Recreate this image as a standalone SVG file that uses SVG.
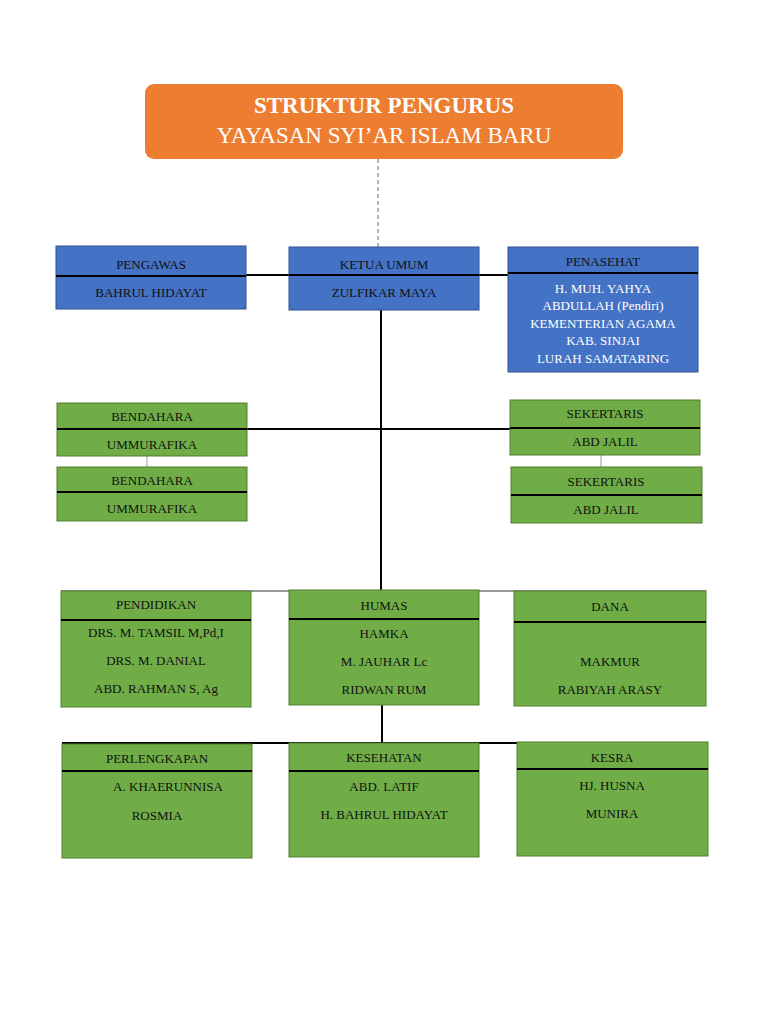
<svg xmlns="http://www.w3.org/2000/svg" width="768" height="1024" viewBox="0 0 768 1024">
<style>
.b{fill:#4472C4;stroke:#2F528F;stroke-width:1}
.g{fill:#70AD47;stroke:#507E32;stroke-width:1}
.d{stroke:#000;stroke-width:2}
.c{stroke:#000;stroke-width:2;fill:none}
text{font-family:"Liberation Serif",serif;font-size:13px;text-anchor:middle}
.bt{fill:#111}
.wt{fill:#fff}
</style>
<rect width="768" height="1024" fill="#fff"/>
<g id="title">
<rect x="145" y="84" width="478" height="75" rx="9" fill="#ED7D31"/>
<text x="384" y="113" style="font-size:23px;font-weight:bold" class="wt">STRUKTUR PENGURUS</text>
<text x="384" y="143" style="font-size:23px" class="wt">YAYASAN SYI’AR ISLAM BARU</text>
</g>
<g id="connectors">
<line x1="378" y1="159" x2="378" y2="247" stroke="#666" stroke-width="1" stroke-dasharray="4,3"/>
<line class="c" x1="246" y1="275" x2="698" y2="275"/>
<line class="c" x1="381" y1="310" x2="381" y2="590"/>
<line class="c" x1="247" y1="429" x2="510" y2="429"/>
<line x1="147" y1="456" x2="147" y2="467" stroke="#999" stroke-width="1"/>
<line x1="601" y1="455" x2="601" y2="467" stroke="#999" stroke-width="1"/>
<line x1="61" y1="591" x2="706" y2="591" stroke="#333" stroke-width="1"/>
<line class="c" x1="382" y1="705" x2="382" y2="743"/>
<line class="c" x1="62" y1="743" x2="708" y2="743"/>
</g>
<g id="pengawas"><rect class="b" x="56" y="246" width="190" height="63"/><line class="d" x1="56" y1="276" x2="246" y2="276"/>
<text class="bt" x="151" y="269">PENGAWAS</text><text class="bt" x="151" y="297">BAHRUL HIDAYAT</text></g>
<g id="ketua"><rect class="b" x="289" y="247" width="190" height="63"/><line class="d" x1="289" y1="275" x2="479" y2="275"/>
<text class="bt" x="384" y="269">KETUA UMUM</text><text class="bt" x="384" y="297">ZULFIKAR MAYA</text></g>
<g id="penasehat"><rect class="b" x="508" y="247" width="190" height="125"/><line class="d" x1="508" y1="273" x2="698" y2="273"/>
<text class="bt" x="603" y="266">PENASEHAT</text>
<text class="wt" x="603" y="293">H. MUH. YAHYA</text><text class="wt" x="603" y="310">ABDULLAH (Pendiri)</text><text class="wt" x="603" y="328">KEMENTERIAN AGAMA</text><text class="wt" x="603" y="345">KAB. SINJAI</text><text class="wt" x="603" y="363">LURAH SAMATARING</text></g>
<g id="bendahara1"><rect class="g" x="57" y="403" width="190" height="53"/><line class="d" x1="57" y1="429" x2="247" y2="429"/>
<text class="bt" x="152" y="421">BENDAHARA</text><text class="bt" x="152" y="449">UMMURAFIKA</text></g>
<g id="bendahara2"><rect class="g" x="57" y="467" width="190" height="54"/><line class="d" x1="57" y1="492" x2="247" y2="492"/>
<text class="bt" x="152" y="485">BENDAHARA</text><text class="bt" x="152" y="513">UMMURAFIKA</text></g>
<g id="sekertaris1"><rect class="g" x="510" y="400" width="190" height="55"/><line class="d" x1="510" y1="428" x2="700" y2="428"/>
<text class="bt" x="605" y="418">SEKERTARIS</text><text class="bt" x="605" y="446">ABD JALIL</text></g>
<g id="sekertaris2"><rect class="g" x="511" y="467" width="191" height="56"/><line class="d" x1="511" y1="495" x2="702" y2="495"/>
<text class="bt" x="606" y="486">SEKERTARIS</text><text class="bt" x="606" y="514">ABD JALIL</text></g>
<g id="pendidikan"><rect class="g" x="61" y="591" width="190" height="116"/><line class="d" x1="61" y1="620" x2="251" y2="620"/>
<text class="bt" x="156" y="609">PENDIDIKAN</text><text class="bt" x="156" y="637">DRS. M. TAMSIL M,Pd,I</text><text class="bt" x="156" y="665">DRS. M. DANIAL</text><text class="bt" x="156" y="693">ABD. RAHMAN S, Ag</text></g>
<g id="humas"><rect class="g" x="289" y="590" width="190" height="115"/><line class="d" x1="289" y1="619" x2="479" y2="619"/>
<text class="bt" x="384" y="610">HUMAS</text><text class="bt" x="384" y="638">HAMKA</text><text class="bt" x="384" y="666">M. JAUHAR Lc</text><text class="bt" x="384" y="694">RIDWAN RUM</text></g>
<g id="dana"><rect class="g" x="514" y="591" width="192" height="115"/><line class="d" x1="514" y1="622" x2="706" y2="622"/>
<text class="bt" x="610" y="611">DANA</text><text class="bt" x="610" y="666">MAKMUR</text><text class="bt" x="610" y="694">RABIYAH ARASY</text></g>
<g id="perlengkapan"><rect class="g" x="62" y="744" width="190" height="114"/><line class="d" x1="62" y1="771" x2="252" y2="771"/>
<text class="bt" x="157" y="763">PERLENGKAPAN</text><text class="bt" x="168" y="791">A.  KHAERUNNISA</text><text class="bt" x="157" y="820">ROSMIA</text></g>
<g id="kesehatan"><rect class="g" x="289" y="743" width="190" height="114"/><line class="d" x1="289" y1="771" x2="479" y2="771"/>
<text class="bt" x="384" y="762">KESEHATAN</text><text class="bt" x="384" y="791">ABD. LATIF</text><text class="bt" x="384" y="819">H. BAHRUL HIDAYAT</text></g>
<g id="kesra"><rect class="g" x="517" y="742" width="191" height="114"/><line class="d" x1="517" y1="769" x2="708" y2="769"/>
<text class="bt" x="612" y="762">KESRA</text><text class="bt" x="612" y="790">HJ. HUSNA</text><text class="bt" x="612" y="818">MUNIRA</text></g>
</svg>
